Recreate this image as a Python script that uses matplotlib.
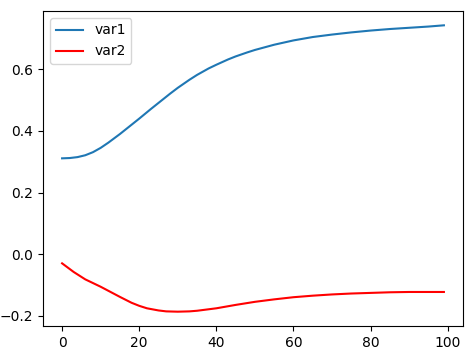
import matplotlib
matplotlib.use("Agg")
import matplotlib.pyplot as plt

x_var1 = [0, 2, 4, 6, 8, 10, 12, 15, 18, 20, 23, 25, 28, 30, 33, 35, 38, 40, 43, 45, 48, 50, 55, 60, 65, 70, 75, 80, 85, 90, 95, 99]
var1 = [0.311, 0.312, 0.315, 0.321, 0.331, 0.345, 0.362, 0.390, 0.420, 0.440, 0.471, 0.491, 0.521, 0.540, 0.566, 0.582, 0.603, 0.615, 0.632, 0.642, 0.655, 0.663, 0.680, 0.694, 0.705, 0.713, 0.720, 0.726, 0.731, 0.735, 0.739, 0.743]

x_var2 = [0, 3, 6, 10, 15, 18, 20, 22, 25, 27, 30, 33, 35, 40, 45, 50, 55, 60, 65, 70, 75, 80, 85, 90, 95, 99]
var2 = [-0.030, -0.058, -0.082, -0.106, -0.139, -0.158, -0.168, -0.176, -0.183, -0.186, -0.187, -0.186, -0.184, -0.176, -0.165, -0.155, -0.147, -0.140, -0.135, -0.131, -0.128, -0.126, -0.124, -0.123, -0.123, -0.123]

fig = plt.figure(figsize=(4.74, 3.55), dpi=100)
ax = fig.add_axes([43/474, 1-326/355, (463-43)/474, (326-11)/355])
ax.plot(x_var1, var1, label="var1")
ax.plot(x_var2, var2, color="red", label="var2")
ax.legend(loc="upper left")
fig.savefig("out.png", dpi=100)
